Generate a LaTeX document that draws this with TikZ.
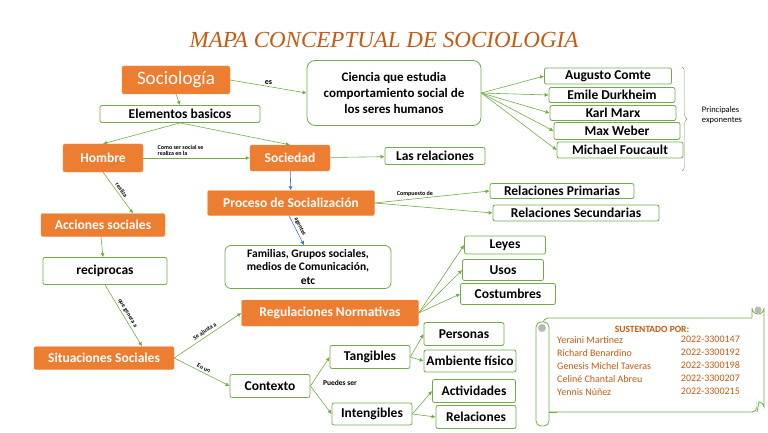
\documentclass[tikz,border=0pt]{standalone}
\usepackage{fontspec}
\setmainfont{Carlito}
\newfontfamily\titlefont{Liberation Serif}
\usetikzlibrary{arrows.meta,decorations.pathreplacing}
\definecolor{naranja}{RGB}{237,125,49}
\definecolor{verde}{RGB}{112,173,71}
\definecolor{azul}{RGB}{68,114,196}
\definecolor{ladrillo}{RGB}{197,90,17}
\tikzset{
  orangebox/.style={fill=naranja, draw=naranja!80!white, text=white, rounded corners=2pt,
    font=\fontsize{13.5}{15}\selectfont\bfseries, inner sep=0pt},
  greenbox/.style={draw=verde, fill=white, rounded corners=2pt, line width=0.8pt,
    font=\fontsize{13.5}{15}\selectfont\bfseries, inner sep=0pt},
  link/.style={draw=verde, line width=0.6pt, -{Latex[length=4pt,width=4pt]}},
  bluelink/.style={draw=azul, line width=0.6pt, -{Latex[length=4pt,width=4pt]}},
  tiny/.style={font=\fontsize{6}{6.5}\selectfont\bfseries, inner sep=2pt}
}
\begin{document}
\begin{tikzpicture}[x=1pt,y=-1pt]
\useasboundingbox (0,0) rectangle (768,433);
\node[text=ladrillo, font=\titlefont\itshape\fontsize{23}{26}\selectfont] (title) at (384,40) {MAPA CONCEPTUAL DE SOCIOLOGIA};
% top row
\node[orangebox, minimum width=108pt, minimum height=28pt, font=\fontsize{19}{21}\selectfont] (socio) at (176,80) {Sociología};
\node[greenbox, minimum width=160pt, minimum height=17pt] (elem) at (180,114) {Elementos basicos};
\node[greenbox, rounded corners=8pt, minimum width=174pt, minimum height=65pt, align=center, font=\fontsize{13}{16}\selectfont\bfseries] (ciencia) at (394,93)
  {Ciencia que estudia\\comportamiento social de\\los seres humanos};
\node[greenbox, minimum width=127pt, minimum height=16pt] (comte) at (608,76) {Augusto Comte};
\node[greenbox, minimum width=126pt, minimum height=15pt] (durk) at (612,95) {Emile Durkheim};
\node[greenbox, minimum width=126pt, minimum height=15pt] (marx) at (613,113) {Karl Marx};
\node[greenbox, minimum width=126pt, minimum height=17pt] (weber) at (617,131) {Max Weber};
\node[greenbox, minimum width=126pt, minimum height=16pt] (fouc) at (620,150) {Michael Foucault};
\coordinate (bt) at (682,67);
\coordinate (bb) at (682,171);
\draw[verde!60!gray, decorate, decoration={brace, amplitude=5pt}] (bt) -- (bb);
\node[tiny, align=left, font=\fontsize{8.5}{9.5}\selectfont] (princ) at (722,115) {Principales\\exponentes};
% second level
\node[orangebox, minimum width=80pt, minimum height=28pt] (hombre) at (103,158) {Hombre};
\node[orangebox, minimum width=80pt, minimum height=26pt] (soc) at (290,158) {Sociedad};
\node[greenbox, minimum width=100pt, minimum height=17pt] (rel) at (435,156) {Las relaciones};
\node[orangebox, minimum width=167pt, minimum height=25pt] (proc) at (291,203) {Proceso de Socialización};
\node[greenbox, minimum width=144pt, minimum height=15pt] (prim) at (562,191) {Relaciones Primarias};
\node[greenbox, minimum width=166pt, minimum height=16pt] (secu) at (576,213) {Relaciones Secundarias};
\node[orangebox, minimum width=124pt, minimum height=23pt] (acc) at (103,225) {Acciones sociales};
\node[greenbox, minimum width=124pt, minimum height=27pt] (recip) at (105,271) {reciprocas};
\node[greenbox, rounded corners=6pt, minimum width=166pt, minimum height=43pt, align=center, font=\fontsize{11.5}{13.5}\selectfont\bfseries] (fam) at (308,267)
  {Familias, Grupos sociales,\\medios de Comunicación,\\etc};
\node[greenbox, minimum width=81pt, minimum height=18pt] (leyes) at (505,245) {Leyes};
\node[greenbox, minimum width=81pt, minimum height=21pt] (usos) at (503,270) {Usos};
\node[greenbox, minimum width=95pt, minimum height=21pt] (cost) at (508,294) {Costumbres};
\node[orangebox, minimum width=177pt, minimum height=26pt] (regu) at (330,313) {Regulaciones Normativas};
\node[orangebox, minimum width=140pt, minimum height=23pt] (situ) at (104,358) {Situaciones Sociales};
\node[greenbox, minimum width=80pt, minimum height=23pt] (ctx) at (270,386) {Contexto};
\node[greenbox, minimum width=80pt, minimum height=23pt] (tang) at (370,357) {Tangibles};
\node[greenbox, minimum width=80pt, minimum height=22pt] (inta) at (372,414) {Intengibles};
\node[greenbox, minimum width=80pt, minimum height=23pt] (pers) at (464,334) {Personas};
\node[greenbox, minimum width=92pt, minimum height=22pt] (amb) at (470,361) {Ambiente físico};
\node[greenbox, minimum width=83pt, minimum height=23pt] (acti) at (474,391) {Actividades};
\node[greenbox, minimum width=80pt, minimum height=23pt] (rela) at (476,417) {Relaciones};
% connectors
\draw[link] (socio.south) -- (elem.north);
\draw[link] (socio.east) -- node[tiny, above, font=\fontsize{8}{9}\selectfont\bfseries] {es} (ciencia.west);
\foreach \n in {comte,durk,marx,weber,fouc}
  \draw[link] (ciencia.east) -- (\n.west);
\draw[link] (elem.south) -- (hombre.north);
\draw[link] (elem.south) -- (soc.north);
\draw[link] (hombre) -- node[tiny, above, align=left, pos=0.35] {Como ser social se\\realiza en la} (soc);
\draw[link] (soc) -- (rel);
\draw[bluelink] (soc) -- (proc);
\draw[link] (proc.east) -- node[tiny, above, pos=0.35] {Compuesto de} (prim.west);
\draw[link] (proc.east) -- (secu.west);
\draw[bluelink] ([xshift=-2pt]proc.south) -- node[tiny, sloped, above, pos=0.45] {agentes} ([xshift=-4pt]fam.north);
\draw[link] (hombre.south) -- node[tiny, sloped, above] {realiza} ([xshift=30pt]acc.north);
\draw[link] ([xshift=-2pt]acc.south) -- ([xshift=-2pt]recip.north);
\draw[link] (recip.south) -- node[tiny, sloped, above] {que genera a} ([xshift=38pt]situ.north);
\draw[link] (situ.east) -- node[tiny, sloped, above] {Se ajusta a} (regu.west);
\draw[link] (situ.east) -- node[tiny, sloped, above] {En un} (ctx.west);
\foreach \n in {leyes,usos,cost}
  \draw[link] (regu.east) -- (\n.west);
\draw[link] (ctx.east) -- (tang.west);
\draw[link] (ctx.east) -- (inta.west);
\node[tiny, font=\fontsize{7.5}{8}\selectfont\bfseries] (pued) at (340,383) {Puedes ser};
\draw[link] (tang.east) -- (pers.west);
\draw[link] (tang.east) -- (amb.west);
\draw[link] (inta.east) -- (acti.west);
\draw[link] (inta.east) -- (rela.west);
% scroll
\draw[verde, line width=0.8pt, fill=white, rounded corners=5pt] (543,318) rectangle (757,412);
\draw[verde, line width=0.8pt, fill=white] (752,318) -- (752,308) arc (180:0:6) -- (764,407) arc (0:-90:5) -- (757,412);
\fill[gray!55] (758,310) circle (3.5);
\draw[verde, line width=0.8pt, fill=white, rounded corners=5pt] (536,322) rectangle (549,426);
\fill[gray!55] (542,328) circle (4);
\draw[verde, line width=0.8pt] (549,412) -- (557,412);
\node[text=ladrillo, font=\fontsize{9.5}{10}\selectfont\bfseries] (sust) at (652,329) {SUSTENTADO POR:};
\node[text=ladrillo, anchor=north west, align=left, font=\fontsize{10}{13}\selectfont, inner sep=0pt] (names) at (557,336)
  {Yeraini Martinez\\Richard Benardino\\Genesis Michel Taveras\\Celiné Chantal Abreu\\Yennis Núñez};
\node[text=ladrillo, anchor=north east, align=right, font=\fontsize{10}{13}\selectfont, inner sep=0pt] (ids) at (740,336)
  {2022-3300147\\2022-3300192\\2022-3300198\\2022-3300207\\2022-3300215};
\end{tikzpicture}
\end{document}
